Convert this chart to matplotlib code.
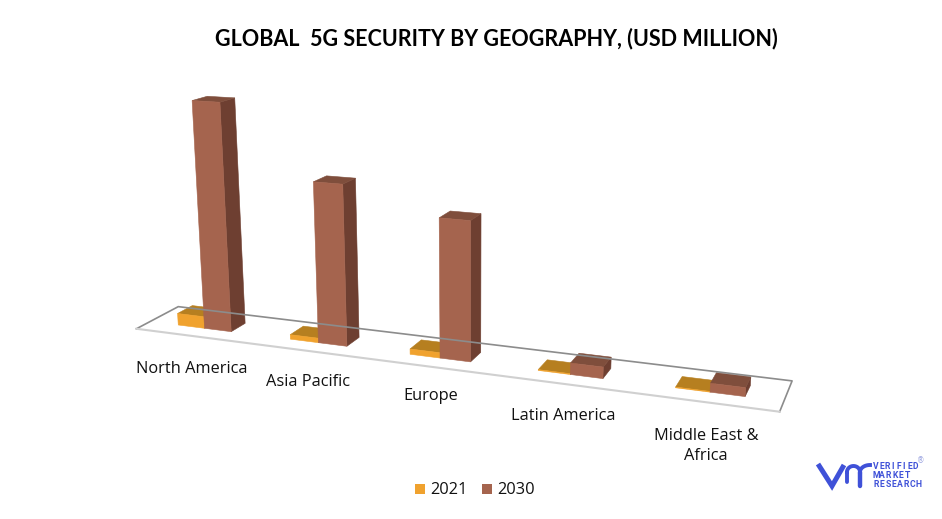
"""Global 5G security by geography: Excel style 3D clustered columns."""

import matplotlib

matplotlib.use("Agg")
import matplotlib.pyplot as plt
import numpy as np
from matplotlib.patches import Polygon, Rectangle

TITLE = "GLOBAL  5G SECURITY BY GEOGRAPHY, (USD MILLION)"
CATEGORIES = ["North America", "Asia Pacific", "Europe", "Latin America", "Middle East &\nAfrica"]
SERIES_NAMES = ["2021", "2030"]
VALUES_2021 = [5.3, 2.0, 2.3, 0.35, 0.3]
VALUES_2030 = [100.0, 69.5, 59.0, 4.8, 3.6]

WIDTH, HEIGHT = 942, 519
BAR_W = 0.24
BAR_GAP = 0.26
DEPTH = (0.32, 0.68)

FRONT = ["#f0a22e", "#a5644e"]
TOP = ["#b67f20", "#7f4e3c"]
SIDE = ["#a87420", "#6e3f31"]

LABEL_POS = [(192, 369), (308, 382), (431, 396), (563, 416), (706, 446)]


def fit_camera():
    """Fit a pinhole camera: world (band, depth, value) to image pixels."""
    x0 = BAR_GAP
    x1 = BAR_GAP + BAR_W
    x2 = BAR_GAP + 2 * BAR_W
    d0, d1 = DEPTH
    na, asia, eu, latam = VALUES_2030[:4]
    anchors = [
        ((0, 0, 0), (137, 328)),
        ((0, 1, 0), (178, 307)),
        ((5, 1, 0), (792, 381)),
        ((5, 0, 0), (780, 411)),
        ((x0, d0, 0), (178, 326)),
        ((x1, d0, 0), (204, 329)),
        ((x2, d0, 0), (231, 332)),
        ((x2, d1, 0), (246, 322)),
        ((x1, d0, na), (192, 101)),
        ((x2, d0, na), (220, 102)),
        ((x2, d1, na), (235, 98)),
        ((1 + x1, d0, 0), (318, 342)),
        ((1 + x2, d0, 0), (347, 347)),
        ((1 + x2, d1, 0), (359, 337)),
        ((1 + x1, d0, asia), (313, 182)),
        ((1 + x2, d0, asia), (342, 184)),
        ((1 + x2, d1, asia), (356, 177)),
        ((2 + x1, d0, 0), (440, 358)),
        ((2 + x2, d0, 0), (471, 362)),
        ((2 + x2, d1, 0), (481, 353)),
        ((2 + x1, d0, eu), (439, 218)),
        ((2 + x2, d0, eu), (471, 221)),
        ((2 + x2, d1, eu), (481, 214)),
        ((3 + x1, d0, 0), (570, 374)),
        ((3 + x2, d0, 0), (603, 379)),
        ((3 + x2, d1, 0), (611, 368)),
        ((3 + x2, d1, latam), (611, 356)),
        ((4 + x1, d0, 0), (710, 392)),
        ((4 + x2, d0, 0), (745, 397)),
        ((4 + x2, d1, 0), (750, 387)),
    ]
    rows = []
    rhs = []
    for (x, y, z), (px, py) in anchors:
        rows.append([x, y, z, 1, 0, 0, 0, 0, -px * x, -px * y, -px * z])
        rows.append([0, 0, 0, 0, x, y, z, 1, -py * x, -py * y, -py * z])
        rhs += [px, py]
    sol = np.linalg.lstsq(np.array(rows, float), np.array(rhs, float), rcond=None)[0]
    return np.append(sol, 1.0).reshape(3, 4)


CAMERA = fit_camera()


def project(x, y, z):
    p = CAMERA @ np.array([x, y, z, 1.0])
    return p[0] / p[2], p[1] / p[2]


def draw_bar(ax, left, value, series):
    right = left + BAR_W
    d0, d1 = DEPTH
    side = [project(right, d0, 0), project(right, d1, 0), project(right, d1, value), project(right, d0, value)]
    top = [project(left, d0, value), project(right, d0, value), project(right, d1, value), project(left, d1, value)]
    front = [project(left, d0, 0), project(right, d0, 0), project(right, d0, value), project(left, d0, value)]
    ax.add_patch(Polygon(side, fc=SIDE[series], ec=SIDE[series], lw=0.4))
    ax.add_patch(Polygon(top, fc=TOP[series], ec=TOP[series], lw=0.4))
    ax.add_patch(Polygon(front, fc=FRONT[series], ec=FRONT[series], lw=0.4))


def draw_logo(ax):
    blue = "#3f51d8"
    ax.plot([818, 832, 844], [464, 486, 465], color=blue, lw=3.6, solid_joinstyle="miter", solid_capstyle="butt")
    t = np.linspace(np.pi, 0, 30)
    ax.plot(853.5 + 6.5 * np.cos(t), 472 - 6 * np.sin(t), color=blue, lw=2.8)
    ax.plot([847, 847], [472, 482], color=blue, lw=2.8, solid_capstyle="round")
    ax.plot([860, 860], [472, 486], color=blue, lw=3.2, solid_capstyle="round")
    t = np.linspace(np.pi, 0.5 * np.pi, 20)
    ax.plot(870 + 10 * np.cos(t), 472 - 7 * np.sin(t), color=blue, lw=2.8)
    words = ["VERIFIED", "MARKET", "RESEARCH"]
    for y, word, step in zip([466.5, 475.5, 484.5], words, [5.6, 6.3, 6.0]):
        for k, ch in enumerate(word):
            ax.text(876 + k * step, y, ch, color=blue, fontsize=6.2, fontweight="bold",
                    family="Roboto", va="center", ha="center")
    ax.text(921, 461, "®", color="#9aa3e0", fontsize=5.5, va="center", ha="center")


fig = plt.figure(figsize=(WIDTH / 100, HEIGHT / 100), dpi=100)
ax = fig.add_axes([0, 0, 1, 1])
ax.set_xlim(0, WIDTH)
ax.set_ylim(HEIGHT, 0)
ax.axis("off")

# floor, the front edge is lighter than the other three
corners = [project(0, 0, 0), project(0, 1, 0), project(5, 1, 0), project(5, 0, 0)]
ax.plot(*zip(corners[0], corners[1], corners[2], corners[3]), color="#8c8c8c", lw=1.2)
ax.plot(*zip(corners[3], corners[0]), color="#d0d0d0", lw=1.5)

for i, (v21, v30) in enumerate(zip(VALUES_2021, VALUES_2030)):
    draw_bar(ax, i + BAR_GAP, v21, 0)
    draw_bar(ax, i + BAR_GAP + BAR_W, v30, 1)

for name, (x, y) in zip(CATEGORIES, LABEL_POS):
    ax.text(x, y, name, ha="center", va="center", fontsize=11.8, family="Open Sans", color="#111111", linespacing=1.25)

ax.text(496, 39, TITLE, ha="center", va="center", fontsize=15.5, fontweight="bold", family="Lato", color="black")

# legend
for x, name, color in zip([415, 482], SERIES_NAMES, FRONT):
    ax.add_patch(Rectangle((x, 484), 10, 10, fc=color, ec="none"))
    ax.text(x + 15, 489.5, name, ha="left", va="center", fontsize=11.8, family="Open Sans", color="#111111")

draw_logo(ax)

fig.savefig("out.png", dpi=100)
